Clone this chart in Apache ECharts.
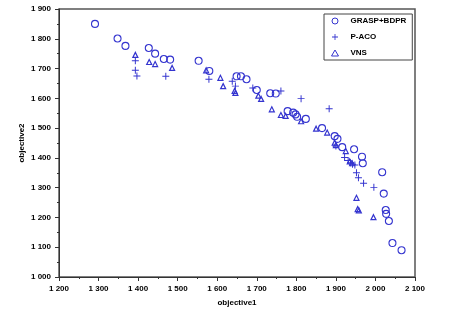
<!DOCTYPE html>
<html>
<head>
<meta charset="utf-8">
<script src="https://cdn.jsdelivr.net/npm/echarts@6/dist/echarts.min.js"></script>
<style>
html,body{margin:0;padding:0;background:#fff;}
#chart{width:474px;height:322px;}
</style>
</head>
<body>
<div id="chart"></div>
<script>
// ---- data ----
const seriesNames = ['GRASP+BDPR', 'P-ACO', 'VNS'];

const graspX = [1291,1348,1368,1427,1443,1465,1481,1553,1580,1649,1660,1674,1700,1734,1748,1778,1792,1798,1802,1824,1865,1897,1904,1916,1946,1966,1968,2017,2021,2026,2027,2034,2043,2066];
const graspY = [1850,1801,1776,1769,1750,1732,1730,1726,1692,1674,1674,1664,1628,1617,1616,1557,1552,1546,1538,1531,1500,1473,1464,1436,1429,1404,1382,1352,1280,1225,1212,1188,1114,1090];

const pacoX = [1393,1393,1397,1470,1579,1638,1646,1690,1761,1812,1883,1900,1922,1931,1937,1942,1948,1952,1957,1970,1996];
const pacoY = [1726,1694,1675,1674,1664,1657,1641,1635,1625,1599,1565,1440,1401,1391,1384,1379,1376,1350,1333,1315,1301];

const vnsX = [1393,1428,1443,1486,1572,1608,1615,1644,1646,1704,1711,1738,1761,1773,1812,1850,1878,1897,1900,1925,1935,1941,1952,1955,1958,1995];
const vnsY = [1746,1722,1715,1702,1694,1669,1641,1625,1618,1609,1598,1563,1544,1541,1523,1498,1485,1451,1443,1423,1388,1382,1266,1228,1224,1201];

const xTicks = [1200,1300,1400,1500,1600,1700,1800,1900,2000,2100];
const yTicks = [1000,1100,1200,1300,1400,1500,1600,1700,1800,1900];

// ---- chart ----
const zip = (a, b) => a.map((v, i) => [v, b[i]]);
const fmt = v => String(v).replace(/\B(?=(\d{3})+(?!\d))/g, ' ');
const blue = '#3434cf';
const font = 'Liberation Sans, Arial, Helvetica, sans-serif';
const plusPath = 'path://M4.3,0H5.7V4.3H10V5.7H5.7V10H4.3V5.7H0V4.3H4.3Z';

const axisCommon = {
  axisLine: {show: true, lineStyle: {color: '#333', width: 1}},
  axisTick: {show: true, length: 4, lineStyle: {color: '#333'}},
  minorTick: {show: true, splitNumber: 2, length: 2, lineStyle: {color: '#333'}},
  splitLine: {show: false},
  axisLabel: {color: '#000', fontSize: 8, fontWeight: 'bold', fontFamily: font, margin: 8, formatter: fmt},
  nameLocation: 'middle',
  nameMoveOverlap: false,
  nameTextStyle: {color: '#000', fontSize: 8, fontWeight: 'bold', fontFamily: font}
};

const chart = echarts.init(document.getElementById('chart'), null, {renderer: 'canvas'});
chart.setOption({
  animation: false,
  backgroundColor: '#fff',
  grid: {left: 59, right: 59, top: 9, bottom: 45, show: true, borderColor: '#555', borderWidth: 1.5, backgroundColor: 'transparent'},
  xAxis: Object.assign({}, axisCommon, {
    type: 'value', min: xTicks[0], max: xTicks[xTicks.length - 1], interval: 100,
    name: 'objective1', nameGap: 22
  }),
  yAxis: Object.assign({}, axisCommon, {
    type: 'value', min: yTicks[0], max: yTicks[yTicks.length - 1], interval: 100,
    name: 'objective2', nameGap: 33
  }),
  legend: {
    orient: 'vertical', left: 324, top: 14,
    padding: [3, 6, 3, 7],
    itemWidth: 7, itemHeight: 6, itemGap: 8,
    borderColor: '#444', borderWidth: 1,
    itemStyle: {borderWidth: 1},
    textStyle: {color: '#000', fontSize: 8, fontWeight: 'bold', fontFamily: font, padding: [0, 0, 0, 7]},
    data: seriesNames
  },
  series: [
    {
      name: seriesNames[0], type: 'scatter', symbol: 'circle', symbolSize: 7,
      itemStyle: {color: 'rgba(0,0,0,0)', borderColor: blue, borderWidth: 1.1, opacity: 1},
      data: zip(graspX, graspY)
    },
    {
      name: seriesNames[1], type: 'scatter', symbol: plusPath, symbolSize: 7,
      itemStyle: {color: blue, borderWidth: 0, opacity: 1},
      data: zip(pacoX, pacoY)
    },
    {
      name: seriesNames[2], type: 'scatter', symbol: 'triangle', symbolSize: 5,
      itemStyle: {color: 'rgba(0,0,0,0)', borderColor: blue, borderWidth: 1.2, opacity: 1},
      data: zip(vnsX, vnsY)
    }
  ]
});
</script>
</body>
</html>
